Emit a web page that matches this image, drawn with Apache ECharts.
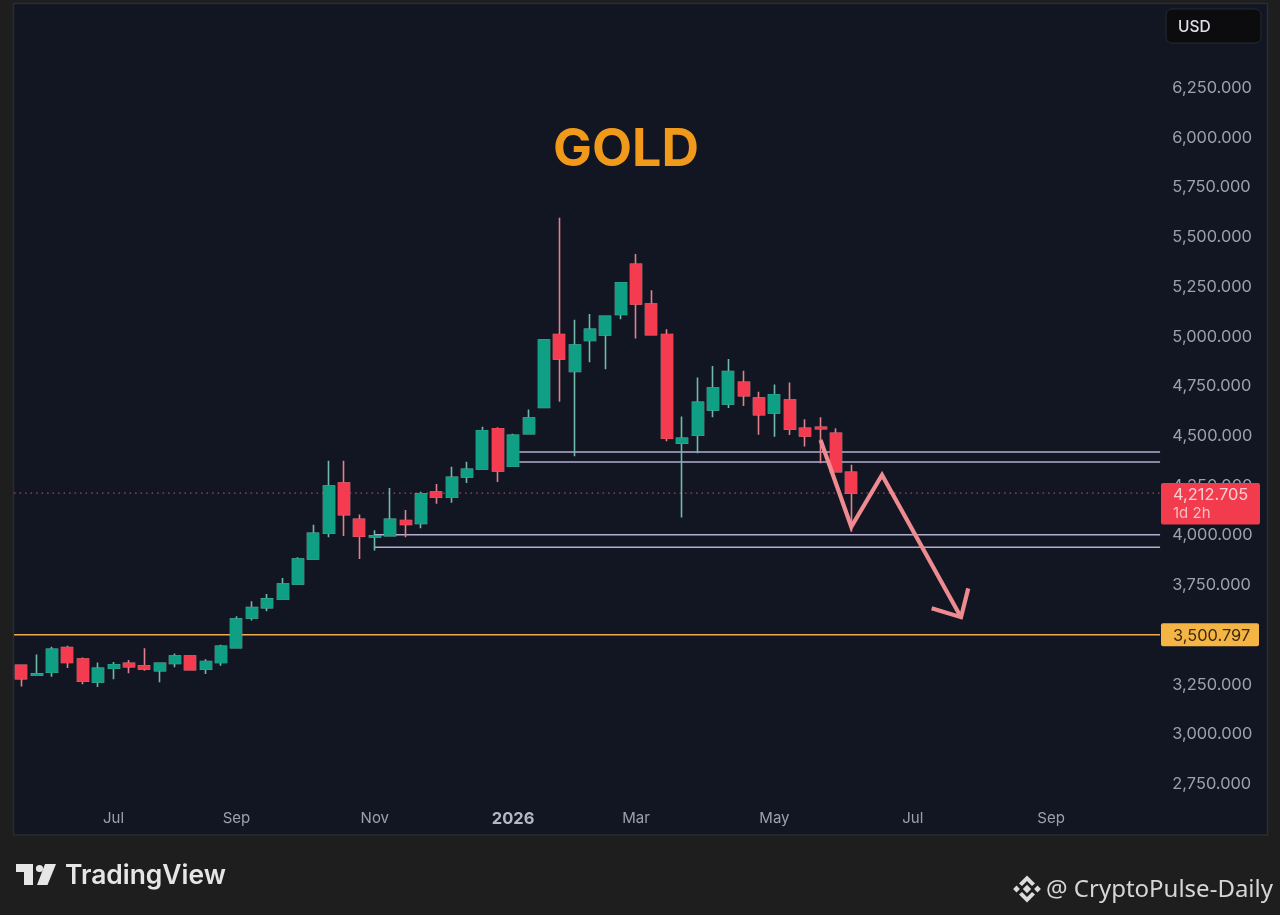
<!DOCTYPE html>
<html><head><meta charset="utf-8">
<style>html,body{margin:0;padding:0;background:#1e1e1e}#c{width:1280px;height:915px}</style>
<script src="https://cdn.jsdelivr.net/npm/echarts@6/dist/echarts.min.js"></script>
</head><body><div id="c"></div>
<script>
// weekly candles, values
const opens  = [3347,3297,3312,3436,3379,3263,3332,3357,3345,3320,3357,3394,3327,3361,3436,3585,3637,3679,3756,3882,4011,4264,4081,3992,3999,4075,4061,4219,4192,4294,4334,4537,4348,4512,4644,5010,4825,4981,5008,5112,5364,5164,5010,4464,4504,4631,4661,4770,4691,4616,4681,4539,4544,4514,4318];
const closes = [3280,3304,3428,3361,3267,3332,3350,3340,3329,3357,3394,3325,3366,3443,3580,3637,3681,3756,3882,4011,4249,4105,3996,3998,4081,4056,4210,4192,4292,4333,4527,4324,4504,4591,4983,4888,4958,5037,5102,5271,5164,5010,4489,4489,4670,4742,4824,4703,4608,4708,4534,4500,4537,4321,4212.705];
const lows   = [3240,3295,3290,3334,3252,3238,3277,3307,3320,3262,3337,3322,3304,3345,3433,3573,3619,3679,3756,3882,3991,3998,3882,3924,3999,3991,4036,4160,4165,4264,4334,4269,4346,4512,4644,4673,4398,4871,4836,5087,4990,5007,4474,4091,4413,4594,4641,4651,4507,4497,4505,4447,4363,4321,4019];
const highs  = [3350,3401,3441,3446,3387,3361,3364,3374,3433,3360,3406,3397,3377,3451,3594,3669,3706,3786,3890,4054,4376,4376,4105,4026,4239,4128,4220,4259,4346,4371,4547,4544,4512,4634,4983,5598,5085,5114,5102,5271,5416,5233,5037,4598,4794,4852,4888,4829,4723,4759,4769,4584,4594,4539,4356];

const barCount = 75;
const tickIndex = [6,14,23,32,40,49,58,67];
const tickText  = ['Jul','Sep','Nov','2026','Mar','May','Jul','Sep'];

const lastPrice = 4212.705;
const keyPrice  = 3500.797;
const zoneStarts = [32.4,32.4,23,23];
const zonePrices = [4420,4370,4004,3941];
const pathIdx   = [52,54,56,61.14];
const pathPrice = [4480,4044,4304,3589];
const headIdx   = [59.23,61.14,61.61];
const headPrice = [3634,3589,3734];
const plotFirst = -0.47, plotLast = 74.09;

const UI = 'Inter, "Liberation Sans", sans-serif';
const fmt = v => v.toLocaleString('en-US',{minimumFractionDigits:3,maximumFractionDigits:3});
const categories = Array.from({length:barCount},(_,i)=>'W'+i);
const tickOf = i => tickText[tickIndex.indexOf(i)];

const hLine = (pts,color,width,type,z)=>({type:'line',xAxisIndex:1,yAxisIndex:0,data:pts,symbol:'none',silent:true,z:z,
  lineStyle:{color:color,width:width,type:type||'solid',cap:'butt',join:'miter'}});

const series = [
  hLine([[plotFirst,lastPrice],[plotLast,lastPrice]],'#b04654',1.3,[1.5,4],1),
  hLine([[plotFirst,keyPrice],[plotLast,keyPrice]],'#f2ab4c',1.4,'solid',1)
];
zonePrices.forEach((p,i)=>series.push(hLine([[zoneStarts[i],p],[plotLast,p]],'#b3aed0',1.5,'solid',1)));
series.push({type:'candlestick',xAxisIndex:0,yAxisIndex:0,barWidth:11.5,z:3,silent:true,
  data:opens.map((o,i)=>[o,closes[i],lows[i],highs[i]]),
  itemStyle:{color:'#6fb8aa',color0:'#e0808b',borderColor:'#6fb8aa',borderColor0:'#e0808b',borderWidth:1.6}});
series.push({type:'candlestick',xAxisIndex:0,yAxisIndex:0,barWidth:11.5,z:4,silent:true,
  data:opens.map((o,i)=>[o,closes[i],Math.min(o,closes[i]),Math.max(o,closes[i])]),
  itemStyle:{color:'#0e9f85',color0:'#f43b4f',borderColor:'#0e9f85',borderColor0:'#f43b4f',borderWidth:1}});
series.push(hLine(pathIdx.map((x,i)=>[x,pathPrice[i]]),'#ee8a90',4.2,'solid',6));
series.push(hLine(headIdx.map((x,i)=>[x,headPrice[i]]),'#ee8a90',4.2,'solid',6));

const chart = echarts.init(document.getElementById('c'),null,{renderer:'canvas'});
chart.setOption({
  animation:false,
  backgroundColor:'#1e1e1e',
  grid:{left:13.615,top:38.35,width:1152.75,height:745.7,containLabel:false},
  xAxis:[{type:'category',data:categories,boundaryGap:true,axisLine:{show:false},axisTick:{show:false},splitLine:{show:false},
      axisLabel:{margin:26.5,interval:0,hideOverlap:false,
        formatter:(v,i)=>{const t=tickOf(i);return t? (t==='2026'?'{b|'+t+'}':t):'';},
        fontFamily:UI,fontSize:15,color:'#9ba1ae',
        rich:{b:{fontFamily:UI,fontSize:16.5,fontWeight:700,color:'#b4b8c3'}}}},
    {type:'value',min:-0.5,max:74.5,show:false}],
  yAxis:[{type:'value',position:'right',min:2750,max:6500,interval:250,
    axisLine:{show:false},axisTick:{show:false},splitLine:{show:false},
    axisLabel:{margin:6,padding:[4,0,0,0],showMaxLabel:false,fontFamily:UI,fontSize:16.4,color:'#9ba1ae',formatter:v=>fmt(v)}}],
  series:series
});

const yKey = chart.convertToPixel({yAxisIndex:0},keyPrice);
const yLast = chart.convertToPixel({yAxisIndex:0},lastPrice);
const poly=(pts,fill,z)=>({type:'polygon',shape:{points:pts},style:{fill:fill},z:z||20,silent:true});
const dia=(cx,cy,r,f)=>poly([[cx,cy-r],[cx+r,cy],[cx,cy+r],[cx-r,cy]],f);
const logoC='#e6e6e6', binC='#dcdcdc';
chart.setOption({graphic:[
  {type:'rect',shape:{x:13.5,y:3.5,width:1254,height:831.5},style:{fill:'#121622',stroke:'#2b2c30',lineWidth:1.5},z:-10,silent:true},
  {type:'rect',shape:{x:1166,y:9,width:95,height:34,r:6},style:{fill:'#0c0c0e',stroke:'#262a34',lineWidth:1},z:20,silent:true},
  {type:'text',x:1178,y:27,style:{text:'USD',fill:'#dfe1e6',font:'500 15.5px '+UI,textVerticalAlign:'middle'},z:21,silent:true},
  {type:'text',x:626,y:150,style:{text:'GOLD',fill:'#f0991a',font:'700 52px '+UI,textAlign:'center',textVerticalAlign:'middle'},z:21,silent:true},
  {type:'rect',shape:{x:1161,y:yLast-10.3,width:99,height:41.5,r:2},style:{fill:'#f23c4e'},z:20,silent:true},
  {type:'text',x:1173,y:yLast+1.5,style:{text:fmt(lastPrice),fill:'#f8cfd3',font:'16.4px '+UI,textVerticalAlign:'middle'},z:21,silent:true},
  {type:'text',x:1173,y:yLast+20,style:{text:'1d 2h',fill:'#f6bcc2',font:'15px '+UI,textVerticalAlign:'middle'},z:21,silent:true},
  {type:'rect',shape:{x:1161,y:yKey-11.5,width:98,height:23,r:2},style:{fill:'#f5b544'},z:20,silent:true},
  {type:'text',x:1173,y:yKey+1,style:{text:fmt(keyPrice),fill:'#3b2a12',font:'16.4px '+UI,textVerticalAlign:'middle'},z:21,silent:true},
  poly([[16,864],[33,864],[33,885],[24,885],[24,872],[16,872]],logoC),
  {type:'circle',shape:{cx:39.5,cy:868.5,r:3.6},style:{fill:logoC},z:20,silent:true},
  poly([[45,864],[56,864],[47.5,885],[37,885]],logoC),
  {type:'text',x:65,y:876,style:{text:'TradingView',fill:logoC,font:'600 26.4px '+UI,textVerticalAlign:'middle'},z:21,silent:true},
  dia(1027,889,4.2,binC),dia(1016.5,889,3.4,binC),dia(1037.5,889,3.4,binC),
  poly([[1027,875.5],[1035,883.5],[1032,886],[1027,881],[1022,886],[1019,883.5]],binC),
  poly([[1027,902.5],[1035,894.5],[1032,892],[1027,897],[1022,892],[1019,894.5]],binC),
  {type:'text',x:1046,y:890,style:{text:'@ CryptoPulse-Daily',fill:'#d6d6d6',font:'24px "Noto Sans", sans-serif',textVerticalAlign:'middle'},z:21,silent:true}
]});
</script></body></html>
